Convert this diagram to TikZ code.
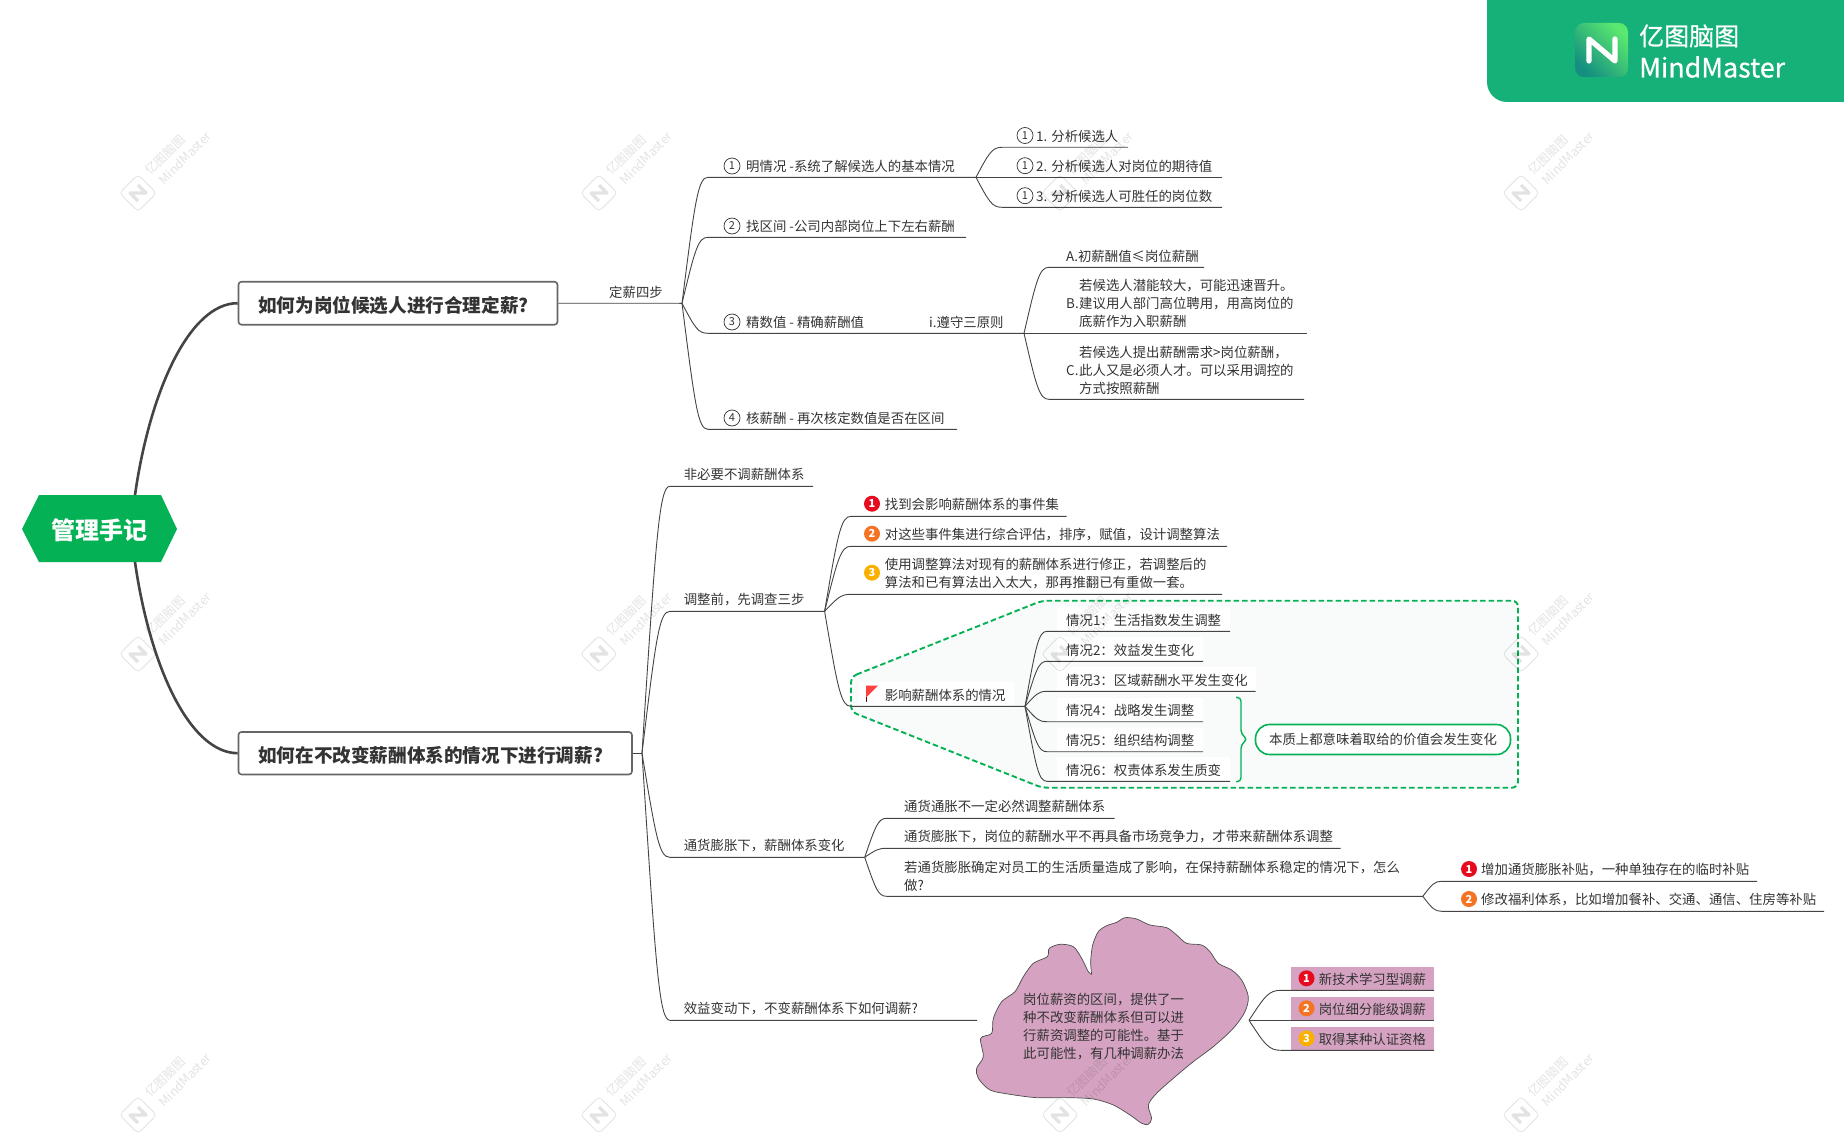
\documentclass[tikz,border=0pt]{standalone}
\usepackage{fontspec}
\setmainfont{Noto Sans CJK SC}
\newfontfamily\logofont[FakeBold=0.6]{Noto Sans CJK SC}
\usetikzlibrary{calc}
\newcommand\fc{\char"FF0C\relax}
\newcommand\fd{\char"FF1A\relax}
\definecolor{txt}{HTML}{333333}
\definecolor{lnc}{HTML}{444444}
\definecolor{grn}{HTML}{05B155}
\definecolor{regionfill}{HTML}{F8FBF9}
\definecolor{pinkc}{HTML}{D5A3C1}
\definecolor{logoc}{HTML}{16B079}
\definecolor{bred}{HTML}{E60B1E}
\definecolor{bora}{HTML}{F57423}
\definecolor{byel}{HTML}{FBB000}
\definecolor{logoa}{HTML}{5BE870}
\definecolor{logob}{HTML}{148F80}
\tikzset{
  cline/.style={draw=lnc,line width=0.9pt},
  tx/.style={anchor=west,inner sep=0pt,yshift=-0.8pt,text=txt,align=left,font=\fontsize{13.4}{18}\selectfont},
  titlebox/.style={draw=black!60,line width=1.6pt,rounded corners=3pt,fill=white,inner sep=0pt},
  titletx/.style={anchor=west,inner sep=0pt,text=txt,font=\fontsize{18.6}{22}\selectfont\bfseries},
  circnum/.style={circle,draw=txt,line width=0.7pt,minimum size=16pt,inner sep=0pt,text=txt,font=\fontsize{11}{11}\selectfont},
  badge/.style={circle,minimum size=16pt,inner sep=0pt,text=white,font=\fontsize{11}{11}\selectfont\bfseries},
  wmtext/.style={inner sep=0pt,text=black,font=\fontsize{12.4}{13}\selectfont},
  wmark/.pic={
    \begin{scope}[opacity=0.11]
      \draw[black,line width=0.8pt,rounded corners=4pt] (0,-18.5) -- (18.5,0) -- (0,18.5) -- (-18.5,0) -- cycle;
      \draw[black,line width=3.2pt,line join=round] (0,8) -- (-8,0) -- (8,0) -- (0,-8);
      \node[wmtext,rotate=45] at (27,-38) {亿图脑图};
      \node[wmtext,rotate=45] at (47,-35) {MindMaster};
    \end{scope}
  }
}
% branch point, corner x, end name, end x, line y
\newcommand\tp[5]{%
  \coordinate (#3) at (#4,#5);
  \draw[cline] let \p1=(#1),\p2=(#3) in (#1)
    .. controls ({\x1+0.5*(#2pt-\x1)},{\y2+0.18*(\y1-\y2)})
    and ({\x1+0.62*(#2pt-\x1)},\y2) .. (#2pt,\y2) -- (#3);
}
\begin{document}
\begin{tikzpicture}[x=1pt,y=-1pt]
\useasboundingbox (0,0) rectangle (1844,1145);

% dashed region
\draw[fill=regionfill,draw=grn,line width=1.9pt,dash pattern=on 5.5pt off 3pt,rounded corners=6pt]
  (851,676.7) -- (1042,600.7) -- (1518,600.7) -- (1518,787.7) -- (1042,787.7) -- (851,711.7) -- cycle;
\fill[white] (1056.6,607) rectangle (1230,631.3);
\fill[white] (1056.6,637) rectangle (1203,661.3);
\fill[white] (1056.6,667) rectangle (1255.5,691.3);
\fill[white] (1056.6,697.5) rectangle (1203,721.7);
\fill[white] (1056.6,727.5) rectangle (1203,751.7);
\fill[white] (1056.6,757) rectangle (1230,781.3);
\fill[white] (859,682) rectangle (1014,706.3);

% logo
\fill[logoc,rounded corners=20pt] (1487,-40) -- (1487,102) -- (1884,102) -- (1884,-40) -- cycle;
\shade[rounded corners=9pt,left color=logoa,right color=logob,shading angle=-45] (1575,23) rectangle (1628,77);
\draw[white,line width=5.2pt,line join=round,line cap=round] (1589,61) -- (1589,39) -- (1615,61) -- (1615,39);
\node[inner sep=0pt,anchor=west,text=white,font=\fontsize{25}{26}\logofont] (logo1) at (1639,36) {亿图脑图};
\node[inner sep=0pt,anchor=west,text=white,font=\fontsize{26.8}{27}\logofont] (logo2) at (1639,67) {MindMaster};

% root
\fill[grn] (39,495) -- (161,495) -- (177,529) -- (161,562) -- (39,562) -- (22,529) -- cycle;
\node[inner sep=0pt,text=white,font=\fontsize{24}{26}\selectfont\bfseries] (root) at (99,530) {管理手记};
\coordinate (rt) at (135,495);
\coordinate (rb) at (135,562);

% titles
\node[titlebox,minimum width=319pt,minimum height=43pt] (t1) at (398,303.2) {};
\node[titletx] (t1x) at (258,305) {如何为岗位候选人进行合理定薪?};
\node[titlebox,minimum width=393.5pt,minimum height=42.5pt] (t2) at (435.2,753.2) {};
\node[titletx] (t2x) at (258,755) {如何在不改变薪酬体系的情况下进行调薪?};
\draw[draw=lnc,line width=2.6pt] (rt) .. controls (150,390) and (190,303) .. (t1.west);
\draw[draw=lnc,line width=2.6pt] (rb) .. controls (150,667) and (190,753) .. (t2.west);

% branch 1
\coordinate (b1) at (682,303.3);
\draw[cline] (t1.east) -- (b1);
\node[tx] (n0) at (609,291.5) {定薪四步};
\tp{b1}{708}{a1}{976}{177.3}
\tp{b1}{708}{a2}{966}{237.3}
\tp{b1}{708}{a3}{1024}{333.3}
\tp{b1}{708}{a4}{957}{429.3}
\node[circnum] (c1) at (732,166) {1};
\node[tx] (x1) at (746,165.7) {明情况 -系统了解候选人的基本情况};
\node[circnum] (c2) at (732,226) {2};
\node[tx] (x2) at (746,225.3) {找区间 -公司内部岗位上下左右薪酬};
\node[circnum] (c3) at (732,322) {3};
\node[tx] (x3) at (746,321.3) {精数值 - 精确薪酬值};
\node[tx] (x3i) at (929,321.3) {i.遵守三原则};
\node[circnum] (c4) at (732,418) {4};
\node[tx] (x4) at (746,417.3) {核薪酬 - 再次核定数值是否在区间};

\tp{a1}{1002}{a11}{1128}{147.3}
\tp{a1}{1002}{a12}{1222}{177.3}
\tp{a1}{1002}{a13}{1222}{207.3}
\node[circnum] (c11) at (1025,135.5) {1};
\node[tx] (x11) at (1036,135.2) {1. 分析候选人};
\node[circnum] (c12) at (1025,165.7) {1};
\node[tx] (x12) at (1036,165.5) {2. 分析候选人对岗位的期待值};
\node[circnum] (c13) at (1025,195.7) {1};
\node[tx] (x13) at (1036,195.5) {3. 分析候选人可胜任的岗位数};

\tp{a3}{1049}{a31}{1204}{267.3}
\tp{a3}{1049}{a32}{1307}{333.3}
\tp{a3}{1049}{a33}{1304}{399.3}
\node[tx] (x31) at (1066,255.7) {A.初薪酬值≤岗位薪酬};
\node[tx] (x32a) at (1066,303) {B.};
\node[tx] (x32) at (1079,303) {若候选人潜能较大\fc 可能迅速晋升。\\建议用人部门高位聘用\fc 用高岗位的\\底薪作为入职薪酬};
\node[tx] (x33a) at (1066,369.5) {C.};
\node[tx] (x33) at (1079,369.5) {若候选人提出薪酬需求>岗位薪酬\fc \\此人又是必须人才。可以采用调控的\\方式按照薪酬};

% branch 2
\coordinate (b2) at (642,753.2);
\draw[cline] (t2.east) -- (b2);
\tp{b2}{670}{d1}{813}{486.3}
\tp{b2}{670}{d2}{824.6}{611.3}
\tp{b2}{670}{d3}{864.7}{857.3}
\tp{b2}{670}{d4}{977}{1020.3}
\node[tx] (y1) at (683.6,474) {非必要不调薪酬体系};
\node[tx] (y2) at (683.6,599) {调整前\fc 先调查三步};
\node[tx] (y3) at (683.6,845) {通货膨胀下\fc 薪酬体系变化};
\node[tx] (y4) at (683.6,1008) {效益变动下\fc 不变薪酬体系下如何调薪?};

\tp{d2}{851}{e1}{1066.7}{516.3}
\tp{d2}{851}{e2}{1227}{546.3}
\tp{d2}{851}{e3}{1222}{594.3}
\tp{d2}{851}{e4}{1025}{706.3}
\node[badge,fill=bred] (k1) at (872,503.7) {1};
\node[tx] (z1) at (884.7,503.7) {找到会影响薪酬体系的事件集};
\node[badge,fill=bora] (k2) at (872,533.7) {2};
\node[tx] (z2) at (884.7,533.7) {对这些事件集进行综合评估\fc 排序\fc 赋值\fc 设计调整算法};
\node[badge,fill=byel] (k3) at (872,572.7) {3};
\node[tx] (z3) at (884.7,573) {使用调整算法对现有的薪酬体系进行修正\fc 若调整后的\\算法和已有算法出入太大\fc 那再推翻已有重做一套。};
\draw[black!60!red,line width=0.8pt] (866,686) -- (866,702);
\fill[red!75!white] (866,685.7) -- (878,685.7) -- (866,697.5) -- cycle;
\node[tx] (z4) at (884.7,694.3) {影响薪酬体系的情况};

\tp{e4}{1047}{f1}{1230}{631.3}
\tp{e4}{1047}{f2}{1203}{661.3}
\tp{e4}{1047}{f3}{1255.5}{691.3}
\tp{e4}{1047}{f4}{1203}{721.7}
\tp{e4}{1047}{f5}{1203}{751.7}
\tp{e4}{1047}{f6}{1230}{781.3}
\node[tx] (w1) at (1066,619.3) {情况1\fd 生活指数发生调整};
\node[tx] (w2) at (1066,649.3) {情况2\fd 效益发生变化};
\node[tx] (w3) at (1066,679.3) {情况3\fd 区域薪酬水平发生变化};
\node[tx] (w4) at (1066,709.3) {情况4\fd 战略发生调整};
\node[tx] (w5) at (1066,739.3) {情况5\fd 组织结构调整};
\node[tx] (w6) at (1066,769.3) {情况6\fd 权责体系发生质变};
\draw[grn,line width=1.4pt,rounded corners=4pt,line join=round]
  (1236,697.3) -- (1241,697.3) -- (1241,734) -- (1247.6,739.3) -- (1241,744.5) -- (1241,781.7) -- (1236,781.7);
\node[draw=grn,line width=1.6pt,fill=white,rounded corners=14pt,minimum width=255pt,minimum height=30pt,inner sep=0pt,yshift=-0.5pt,text=txt,font=\fontsize{13.4}{18}\selectfont] (sum) at (1383,739) {本质上都意味着取给的价值会发生变化};

\tp{d3}{886.6}{g1}{1114.7}{818.3}
\tp{d3}{886.6}{g2}{1340.5}{848.3}
\tp{d3}{886.6}{g3}{1422.8}{896.3}
\node[tx] (v1) at (904,806) {通货通胀不一定必然调整薪酬体系};
\node[tx] (v2) at (904,836) {通货膨胀下\fc 岗位的薪酬水平不再具备市场竞争力\fc 才带来薪酬体系调整};
\node[tx] (v3) at (904,875.7) {若通货膨胀确定对员工的生活质量造成了影响\fc 在保持薪酬体系稳定的情况下\fc 怎么\\做?};
\tp{g3}{1441.7}{h1}{1757}{881.3}
\tp{g3}{1441.7}{h2}{1824}{911.3}
\node[badge,fill=bred] (m1) at (1469,869) {1};
\node[tx] (u1) at (1481,869) {增加通货膨胀补贴\fc 一种单独存在的临时补贴};
\node[badge,fill=bora] (m2) at (1469,899) {2};
\node[tx] (u2) at (1481,899) {修改福利体系\fc 比如增加餐补、交通、通信、住房等补贴};

% blob
\begin{scope}[shift={(960,905)},x=0.3333pt,y=-0.3333pt]
\draw[fill=pinkc,draw=black!70,line width=0.7pt,line join=miter] plot[smooth,tension=0.5] coordinates {
 (395,208) (392,170) (398,120) (415,80) (440,62) (470,52) (495,38) (530,42) (570,60) (620,68) (650,90) (680,115)
 (725,120) (750,140) (775,175) (815,195) (845,225) (865,275) (855,320) (820,370) (760,425) (700,470) (640,520)
 (590,565) (565,600) (575,640) (565,658) (545,655) (510,630) (460,600) (400,582) (320,578) (230,578) (150,568)
 (90,555) (55,520) (50,490) (70,455) (62,400) (95,385) (100,340) (125,290) (165,260) (190,215) (220,175) (262,155)
 (268,130) (300,118) (340,125) (365,160) (385,200) (395,208)};
\end{scope}
\node[tx] (blobtx) at (1023,1026) {岗位薪资的区间\fc 提供了一\\种不改变薪酬体系但可以进\\行薪资调整的可能性。基于\\此可能性\fc 有几种调薪办法};
\coordinate (bl) at (1249,1020.3);
\fill[pinkc] (1291.4,967) rectangle (1434,990.3);
\fill[pinkc] (1291.4,997) rectangle (1434,1020.3);
\fill[pinkc] (1291.4,1027) rectangle (1434,1050.3);
\tp{bl}{1281}{p1}{1434}{990.3}
\tp{bl}{1281}{p2}{1434}{1020.3}
\tp{bl}{1281}{p3}{1434}{1050.3}
\node[badge,fill=bred] (q1) at (1306.5,978.3) {1};
\node[tx] (r1) at (1318.6,978.3) {新技术学习型调薪};
\node[badge,fill=bora] (q2) at (1306.5,1008.3) {2};
\node[tx] (r2) at (1318.6,1008.3) {岗位细分能级调薪};
\node[badge,fill=byel] (q3) at (1306.5,1038.3) {3};
\node[tx] (r3) at (1318.6,1038.3) {取得某种认证资格};

% watermarks
\foreach \wy in {193,654,1115}{
  \foreach \wx in {138,599,1060,1521}{
    \pic at (\wx,\wy) {wmark};
  }
}
\end{tikzpicture}
\end{document}
